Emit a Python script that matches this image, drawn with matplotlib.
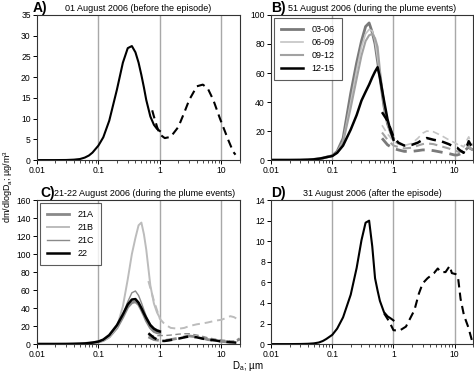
import matplotlib
matplotlib.use('Agg')
import matplotlib.pyplot as plt
from matplotlib.ticker import FixedLocator, FixedFormatter, NullFormatter, LogLocator

plt.rcParams['font.family'] = ['Liberation Sans', 'DejaVu Sans']
plt.rcParams['mathtext.default'] = 'regular'

# ---- data ----
# fine mode (solid) size bins, um
fineSizes = [0.01, 0.02, 0.03, 0.04, 0.05, 0.06, 0.07, 0.08, 0.1, 0.12, 0.15, 0.2,
             0.25, 0.3, 0.35, 0.4, 0.45, 0.5, 0.55, 0.6, 0.7, 0.8, 0.9, 1.0]

# panel A - 01 August
aFine = [0, 0, 0.02, 0.1, 0.25, 0.6, 1.1, 1.8, 3.5, 5.5, 9.5, 17,
         23.5, 27, 27.5, 26, 23.5, 20.5, 17.5, 14.5, 10.5, 8.5, 7.5, 7.0]
aCoarseSizes = [0.75, 0.8, 0.9, 1.0, 1.2, 1.5, 2, 2.5, 3, 4, 5, 6, 7.4, 9.5, 13, 15.6, 17]
aCoarse = [12, 10.5, 8, 6.2, 5.3, 5.6, 8, 11.5, 14.5, 17.8, 18.2, 17.3, 14.5, 10, 4.8, 2, 1.3]

# panel B - plume events, four periods
bLabels = ['03-06', '06-09', '09-12', '12-15']
bFine = {
    '03-06': [0, 0, 0.05, 0.2, 0.5, 0.9, 1.4, 2, 3, 6, 15, 46, 67, 82, 92, 94.5, 88, 80, 68, 57, 37, 25, 19, 15],
    '06-09': [0, 0, 0.05, 0.2, 0.5, 0.9, 1.4, 2, 3, 5.5, 13, 40, 62, 78, 87, 90, 89, 82, 70, 60, 38, 26, 19, 15],
    '09-12': [0, 0, 0.05, 0.2, 0.5, 0.9, 1.4, 2, 3, 5, 12, 36, 56, 72, 82, 86, 87, 84, 78, 62, 39, 26, 19, 15],
    '12-15': [0, 0, 0.05, 0.2, 0.5, 0.9, 1.4, 2, 2.8, 5, 10, 21, 31, 41, 47, 52, 57, 61, 64, 57, 41, 28, 20, 14],
}
bCoarseSizes = [0.65, 0.8, 1.0, 1.2, 1.5, 2, 2.5, 3, 3.5, 4.5, 6, 8, 10, 11, 12, 13, 14, 15, 16, 17, 18, 20]
bCoarse = {
    '03-06': [15, 10.5, 8, 7, 6, 6, 6.5, 7, 7, 6.5, 5.5, 4.5, 3.5, 3.5, 4, 5, 6, 7, 8, 9, 8, 7],
    '06-09': [24, 18, 13, 11, 10, 11.5, 15, 18.5, 20, 19.5, 17, 14, 12, 11, 9, 10, 9, 11, 14, 16, 13, 10],
    '09-12': [19, 14, 10, 9, 8, 8.5, 10, 11, 11.5, 11, 9.5, 8, 6.5, 6, 5.5, 6, 7, 8, 9, 10, 8, 7],
    '12-15': [33, 27, 16, 12, 10, 10.5, 12, 14, 15.2, 14, 13, 11, 9, 8.5, 7, 6, 5, 8, 10, 13, 11, 8],
}

# panel C - 21-22 August
cLabels = ['21A', '21B', '21C', '22']
cFine = {
    '21A': [0, 0, 0.05, 0.2, 0.4, 0.7, 1.1, 1.5, 2.4, 4, 8, 18, 30, 41, 46, 47, 44, 38, 32, 26, 18, 14, 12.5, 12],
    '21B': [0, 0, 0.05, 0.2, 0.4, 0.7, 1.1, 1.5, 2.4, 4, 8, 19, 42, 72, 100, 118, 132, 135, 122, 105, 65, 45, 35, 29],
    '21C': [0, 0, 0.05, 0.2, 0.4, 0.7, 1.1, 1.6, 2.6, 4.5, 9, 20, 33, 47, 57, 59, 54, 46, 38, 31, 22, 18, 16, 15],
    '22':  [0, 0, 0.05, 0.2, 0.4, 0.7, 1.1, 1.6, 2.8, 5, 10, 21, 33, 44, 49.5, 50, 46, 40, 34, 29, 21, 17, 15, 14],
}
cCoarseSizes = [0.65, 0.8, 1.0, 1.2, 1.5, 2, 2.5, 3, 4, 5, 6, 8, 10, 12, 14, 16, 18, 20]
cCoarse = {
    '21A': [8, 5, 4, 4, 5, 6.5, 8, 9, 8, 6.5, 5, 4, 3, 2.5, 2.5, 3, 4, 6],
    '21B': [70, 48, 28, 22, 18, 17, 18, 20, 22, 23, 24, 26, 27, 29, 31, 30, 28, 25],
    '21C': [10, 9, 9.5, 9.5, 10, 11, 11.5, 11.5, 10, 8.5, 7, 5.5, 4.5, 4, 3.5, 3.5, 4, 5],
    '22':  [12, 7, 3.5, 3.5, 4.5, 6, 7.5, 8.5, 7.5, 6, 5, 4, 3, 2.5, 2, 1.8, 1.5, 1.5],
}

# panel D - 31 August
dFine = [0, 0, 0.01, 0.03, 0.07, 0.15, 0.3, 0.5, 0.9, 1.5, 2.6, 4.8,
         7.4, 10.1, 11.8, 12.0, 9.5, 6.4, 5.2, 4.2, 3.1, 2.7, 2.5, 2.3]
dCoarseSizes = [0.7, 0.85, 1.0, 1.25, 1.6, 2.2, 2.6, 3.0, 3.6, 4.6, 5.3, 5.9, 7.1, 8.3,
                9.0, 10.4, 11.3, 12.5, 14.2, 16.7, 19.5]
dCoarse = [3.0, 2.2, 1.35, 1.3, 1.7, 3.3, 4.9, 5.9, 6.4, 6.9, 7.35, 7.0, 7.0, 7.6,
           6.9, 6.8, 6.6, 4.4, 2.8, 1.65, 0.2]

# line style per series
bStyle = {'03-06': ('#7a7a7a', 2.0), '06-09': ('#c4c4c4', 1.2),
          '09-12': ('#a2a2a2', 1.5), '12-15': ('black', 1.8)}
cStyle = {'21A': ('#8a8a8a', 2.0), '21B': ('#bcbcbc', 1.4),
          '21C': ('#8a8a8a', 1.0), '22': ('black', 1.8)}
dashStyle = (0, (4, 2.5))


def setupAxes(ax, letter, title, ymax, ystep, letterX=0.0, titleX=0.5):
    ax.set_xscale('log')
    ax.set_xlim(0.01, 20)
    ax.set_ylim(0, ymax)
    ax.set_yticks(range(0, ymax + 1, ystep))
    ax.xaxis.set_major_locator(FixedLocator([0.01, 0.1, 1, 10]))
    ax.xaxis.set_major_formatter(FixedFormatter(['0.01', '0.1', '1', '10']))
    ax.xaxis.set_minor_locator(LogLocator(base=10, subs=range(2, 10)))
    ax.xaxis.set_minor_formatter(NullFormatter())
    ax.tick_params(axis='both', which='major', labelsize=6.2, length=3, width=0.7, pad=1.5, direction='out')
    ax.tick_params(axis='x', which='minor', length=2, width=0.5, direction='out')
    for xv in [0.1, 1, 10]:
        ax.axvline(xv, color='#a8a8a8', lw=1.0, zorder=0)
    for sp in ax.spines.values():
        sp.set_linewidth(0.8)
        sp.set_color('#333333')
    ax.text(titleX, 1.028, title, transform=ax.transAxes, fontsize=6.5,
            ha='center', va='baseline')
    ax.text(letterX, 1.022, letter, transform=ax.transAxes, fontsize=10,
            fontweight='bold', ha='left', va='baseline')


fig = plt.figure(figsize=(4.74, 3.74), dpi=100)
axA = fig.add_axes([0.078, 0.572, 0.428, 0.388])
axB = fig.add_axes([0.572, 0.572, 0.426, 0.388])
axC = fig.add_axes([0.078, 0.080, 0.428, 0.385])
axD = fig.add_axes([0.572, 0.080, 0.426, 0.385])

# A
setupAxes(axA, 'A)', '01 August 2006 (before the episode)', 35, 5, letterX=-0.02)
axA.plot(fineSizes, aFine, color='black', lw=1.5)
axA.plot(aCoarseSizes, aCoarse, color='black', lw=1.5, linestyle=dashStyle)

# B
setupAxes(axB, 'B)', '51 August 2006 (during the plume events)', 100, 20)
for lab in bLabels:
    col, lw = bStyle[lab]
    axB.plot(fineSizes, bFine[lab], color=col, lw=lw, label=lab)
    axB.plot(bCoarseSizes, bCoarse[lab], color=col, lw=lw, linestyle=dashStyle)
legB = axB.legend(loc='upper left', fontsize=6.5, frameon=True, fancybox=False,
                  edgecolor='#333333', handlelength=2.4, labelspacing=0.45,
                  borderpad=0.8, handletextpad=1.0, borderaxespad=0.3)
legB.get_frame().set_linewidth(0.8)

# C
setupAxes(axC, 'C)', '21-22 August 2006 (during the plume events)', 160, 20,
          letterX=0.015, titleX=0.53)
for lab in cLabels:
    col, lw = cStyle[lab]
    axC.plot(fineSizes, cFine[lab], color=col, lw=lw, label=lab)
    axC.plot(cCoarseSizes, cCoarse[lab], color=col, lw=lw, linestyle=dashStyle)
legC = axC.legend(loc='upper left', fontsize=6.5, frameon=True, fancybox=False,
                  edgecolor='#333333', handlelength=2.4, labelspacing=0.45,
                  borderpad=0.8, handletextpad=1.0, borderaxespad=0.3)
legC.get_frame().set_linewidth(0.8)

# D
setupAxes(axD, 'D)', '31 August 2006 (after the episode)', 14, 2)
axD.plot(fineSizes, dFine, color='black', lw=1.5)
axD.plot(dCoarseSizes, dCoarse, color='black', lw=1.5, linestyle=dashStyle)

fig.text(0.002, 0.5, 'dm/dlogD$_a$; µg/m$^3$', rotation=90, fontsize=6.5, ha='left', va='center')
fig.text(0.49, 0.022, 'D$_a$; µm', fontsize=7, ha='left', va='center')

fig.savefig('out.png', dpi=100)
